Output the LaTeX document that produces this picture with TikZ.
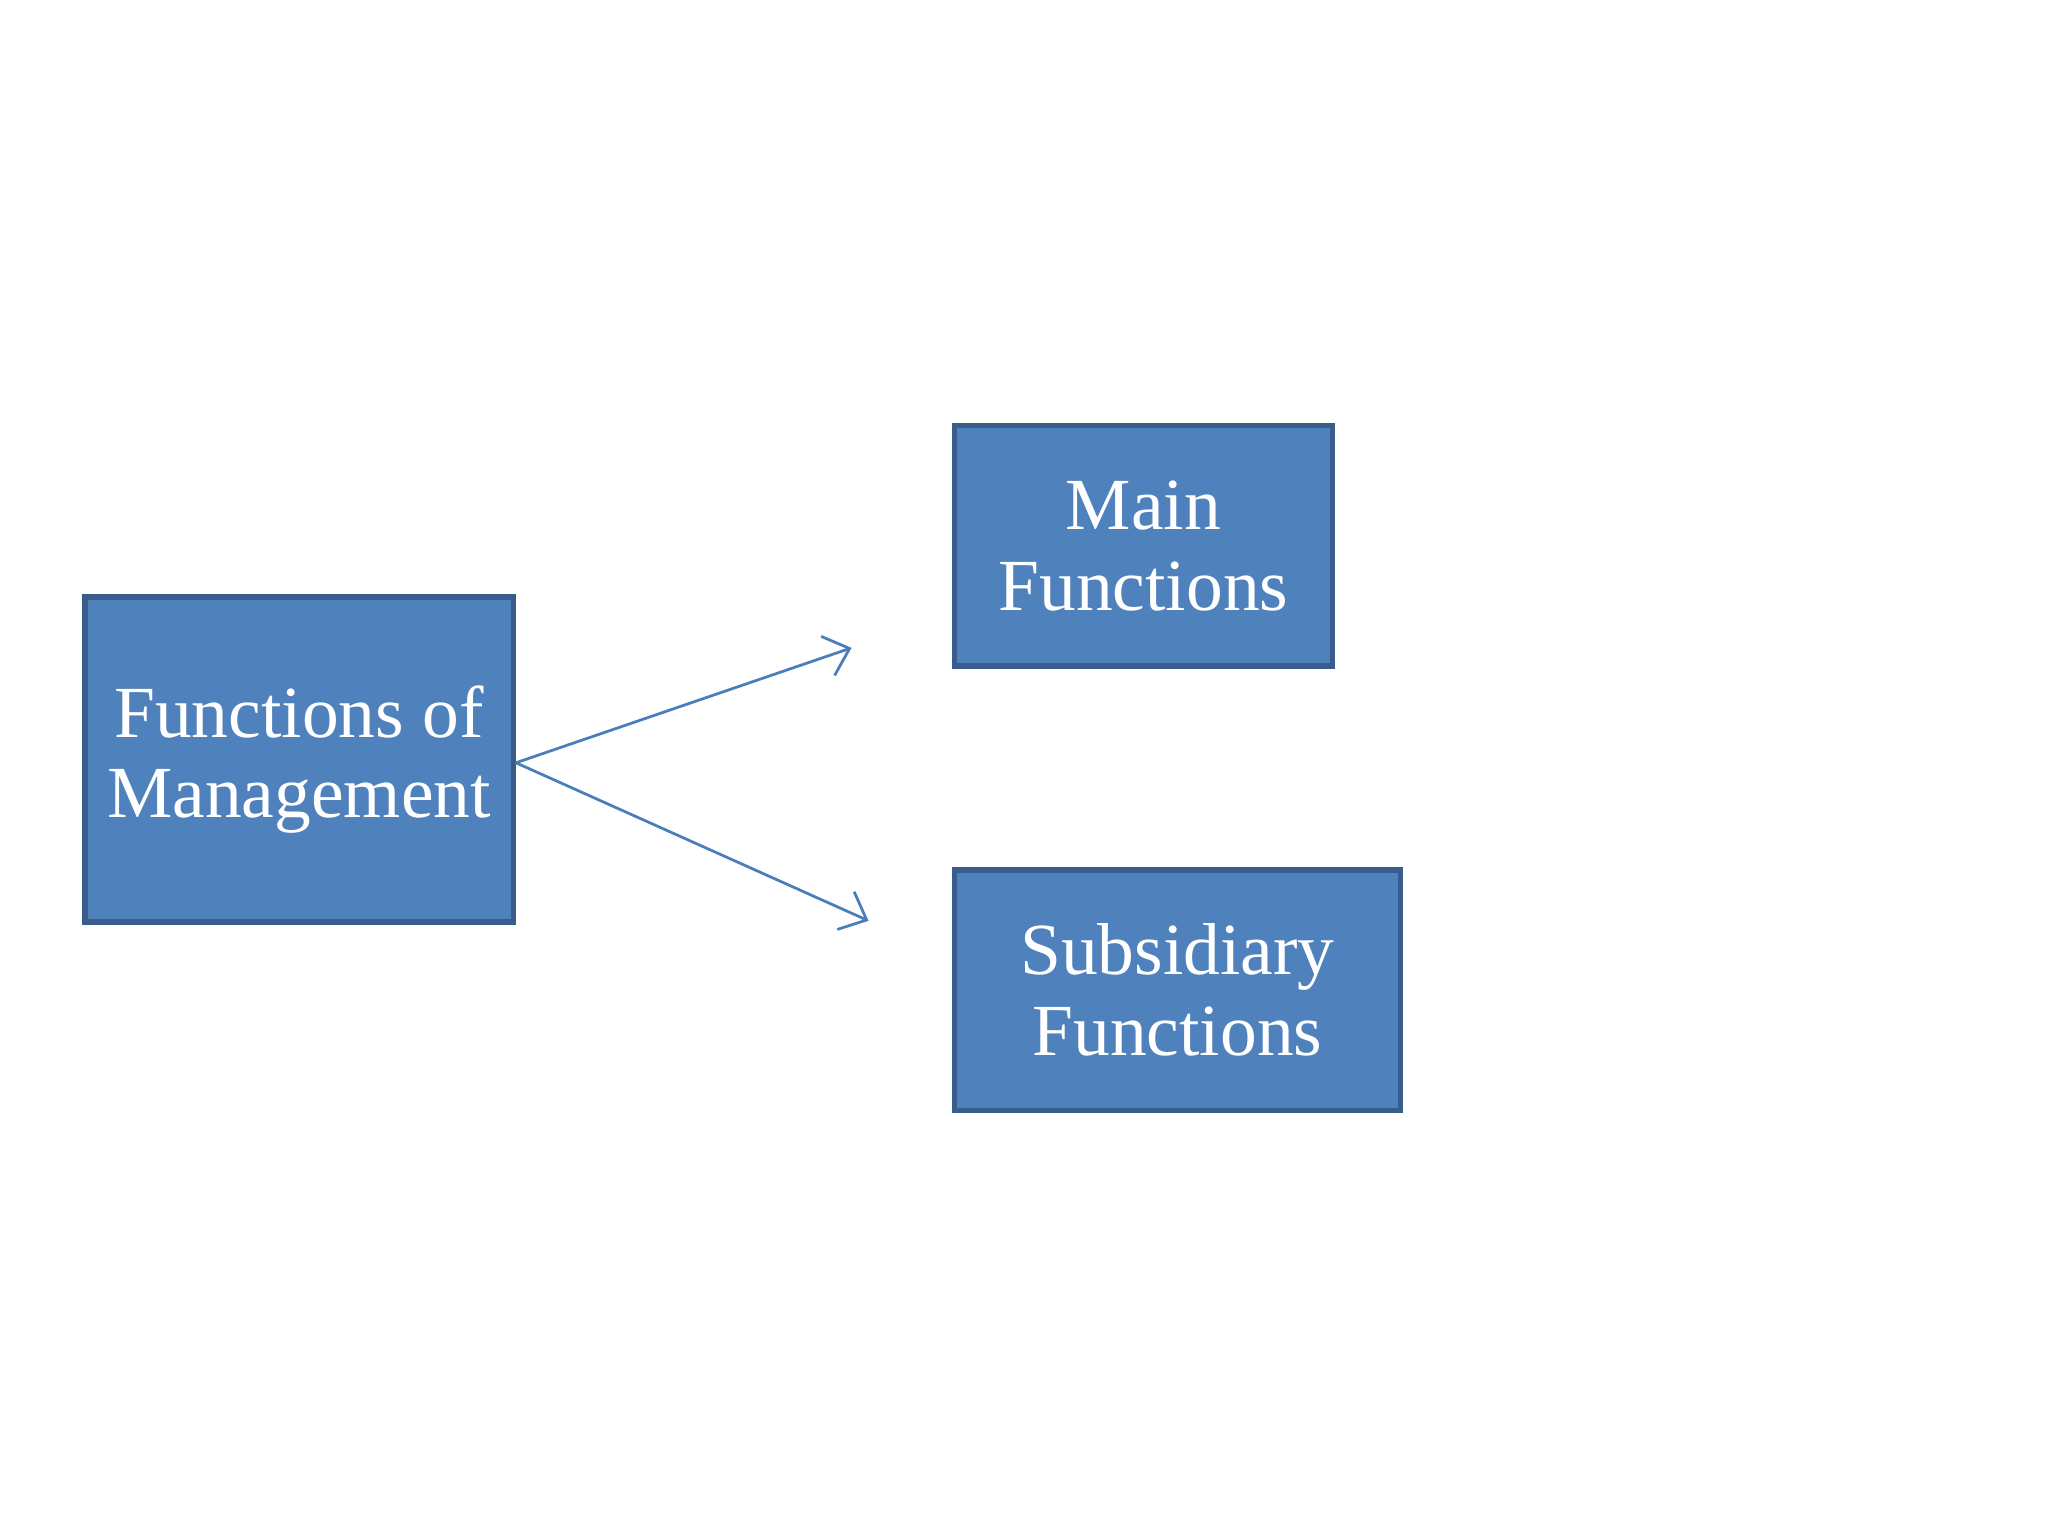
\documentclass[tikz,border=0pt]{standalone}
\usepackage{fontspec}
\setmainfont{Liberation Serif}
\usetikzlibrary{arrows.meta}
\definecolor{boxfill}{HTML}{4F81BD}
\definecolor{boxline}{HTML}{385D8A}
\definecolor{arr}{HTML}{4A7EBB}
\begin{document}
\begin{tikzpicture}[x=0.01cm,y=-0.01cm,
  box/.style={draw=boxline,fill=boxfill,line width=1.2pt,text=white,align=center,
    font=\fontsize{16pt}{17.6pt}\selectfont,inner sep=0pt},
  conn/.style={draw=arr,line width=0.6pt,-{Straight Barb[length=5pt,width=9pt]}}]
\useasboundingbox (0,0) rectangle (1568,1176);
\node[box,minimum width=328\pgflinewidth,minimum width=3.28cm,minimum height=2.49cm] (a) at (229,581.5) {Functions of\\Management};
\node[box,minimum width=2.89cm,minimum height=1.84cm] (b) at (875.5,418) {Main\\Functions};
\node[box,minimum width=3.41cm,minimum height=1.84cm] (c) at (901.5,758) {Subsidiary\\Functions};
\coordinate (s) at (395,584);
\coordinate (e1) at (652,496);
\coordinate (e2) at (665,705);
\draw[conn] (s) -- (e1);
\draw[conn] (s) -- (e2);
\end{tikzpicture}
\end{document}
